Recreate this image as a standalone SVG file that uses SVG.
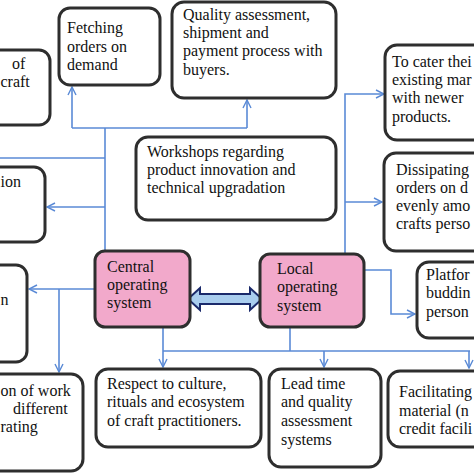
<svg xmlns="http://www.w3.org/2000/svg" width="474" height="474" viewBox="0 0 474 474">
<defs>
<style>
.box{fill:#fff;stroke:#2e2e2e;stroke-width:3}
.pink{fill:#f2a9cb;stroke:#2e2e2e;stroke-width:3}
text{font-family:"Liberation Serif","Times New Roman",serif;font-size:16px;fill:#111}
.ln{fill:none;stroke:#5a8ad6;stroke-width:1.6}
</style>
<marker id="ah" viewBox="0 0 10 10" refX="9" refY="5" markerWidth="10" markerHeight="10" markerUnits="userSpaceOnUse" orient="auto">
<path d="M1,1 L9,5 L1,9" fill="none" stroke="#5a8ad6" stroke-width="1.4"/>
</marker>
</defs>
<rect width="474" height="474" fill="#fff"/>
<g id="connectors">
<path class="ln" d="M105,251 V128"/>
<path class="ln" d="M72,128 H247"/>
<path class="ln" d="M72,128 V87" marker-end="url(#ah)"/>
<path class="ln" d="M247,128 V100" marker-end="url(#ah)"/>
<path class="ln" d="M105,158 H0"/>
<path class="ln" d="M105,207 H47" marker-end="url(#ah)"/>
<path class="ln" d="M345,254 V94 H384" marker-end="url(#ah)"/>
<path class="ln" d="M345,202 H382" marker-end="url(#ah)"/>
<path class="ln" d="M364,270 H391 V314 H415" marker-end="url(#ah)"/>
<path class="ln" d="M95,289 H29" marker-end="url(#ah)"/>
<path class="ln" d="M59,289 V372" marker-end="url(#ah)"/>
<path class="ln" d="M163,327 V367" marker-end="url(#ah)"/>
<path class="ln" d="M163,351 H470"/>
<path class="ln" d="M290,327 V351"/>
<path class="ln" d="M324,351 V367" marker-end="url(#ah)"/>
<path class="ln" d="M469,351 V368" marker-end="url(#ah)"/>
<polygon points="188,299 200,288 200,294 250,294 250,288 262,299 250,310 250,304 200,304 200,310" fill="#a9cdee" stroke="#1b2a6b" stroke-width="2" stroke-linejoin="miter"/>
</g>
<g id="n-topleft">
<rect class="box" x="-20" y="50" width="70" height="75" rx="11"/>
<text x="12" y="69">of</text>
<text x="0.5" y="87">craft</text>
</g>
<g id="n-fetching">
<rect class="box" x="59" y="8" width="101" height="77" rx="11"/>
<text x="67" y="33">Fetching</text>
<text x="67" y="52">orders on</text>
<text x="67" y="70">demand</text>
</g>
<g id="n-quality">
<rect class="box" x="172" y="2" width="164" height="96" rx="12"/>
<text x="183" y="20">Quality assessment,</text>
<text x="183" y="38">shipment and</text>
<text x="183" y="56">payment process with</text>
<text x="183" y="75">buyers.</text>
</g>
<g id="n-cater">
<rect class="box" x="385" y="45" width="110" height="95" rx="12"/>
<text x="392" y="67">To cater thei</text>
<text x="392" y="85">existing mar</text>
<text x="392" y="103">with newer</text>
<text x="392" y="122">products.</text>
</g>
<g id="n-workshops">
<rect class="box" x="136" y="137" width="200" height="83" rx="12"/>
<text x="147" y="157">Workshops regarding</text>
<text x="147" y="175">product innovation and</text>
<text x="147" y="193">technical upgradation</text>
</g>
<g id="n-ation">
<rect class="box" x="-20" y="167" width="65" height="75" rx="11"/>
<text x="0.5" y="187">ion</text>
</g>
<g id="n-dissipating">
<rect class="box" x="384" y="153" width="110" height="98" rx="12"/>
<text x="396" y="175">Dissipating</text>
<text x="396" y="193">orders on d</text>
<text x="396" y="211">evenly amo</text>
<text x="396" y="229">crafts perso</text>
</g>
<g id="n-n">
<rect class="box" x="-20" y="265" width="47" height="97" rx="11"/>
<text x="0.5" y="305">n</text>
</g>
<g id="n-central">
<rect class="pink" x="95" y="251" width="95" height="76" rx="10"/>
<text x="107" y="272">Central</text>
<text x="107" y="290">operating</text>
<text x="107" y="308">system</text>
</g>
<g id="n-local">
<rect class="pink" x="260" y="254" width="104" height="73" rx="10"/>
<text x="277" y="274">Local</text>
<text x="277" y="292">operating</text>
<text x="277" y="311">system</text>
</g>
<g id="n-platform">
<rect class="box" x="417" y="262" width="80" height="76" rx="12"/>
<text x="426" y="280">Platfor</text>
<text x="426" y="298">buddin</text>
<text x="426" y="317">person</text>
</g>
<g id="n-work">
<rect class="box" x="-20" y="374" width="103" height="97" rx="12"/>
<text x="0.5" y="396">on of work</text>
<text x="13" y="414">different</text>
<text x="0.5" y="432">rating</text>
</g>
<g id="n-respect">
<rect class="box" x="96" y="369" width="165" height="78" rx="12"/>
<text x="107" y="389">Respect to culture,</text>
<text x="107" y="407">rituals and ecosystem</text>
<text x="107" y="426">of craft practitioners.</text>
</g>
<g id="n-lead">
<rect class="box" x="269" y="369" width="112" height="98" rx="12"/>
<text x="281" y="389">Lead time</text>
<text x="281" y="407">and quality</text>
<text x="281" y="426">assessment</text>
<text x="281" y="445">systems</text>
</g>
<g id="n-facilitating">
<rect class="box" x="388" y="371" width="110" height="76" rx="12"/>
<text x="399" y="397">Facilitating</text>
<text x="399" y="416">material (n</text>
<text x="399" y="434">credit facili</text>
</g>
</svg>
